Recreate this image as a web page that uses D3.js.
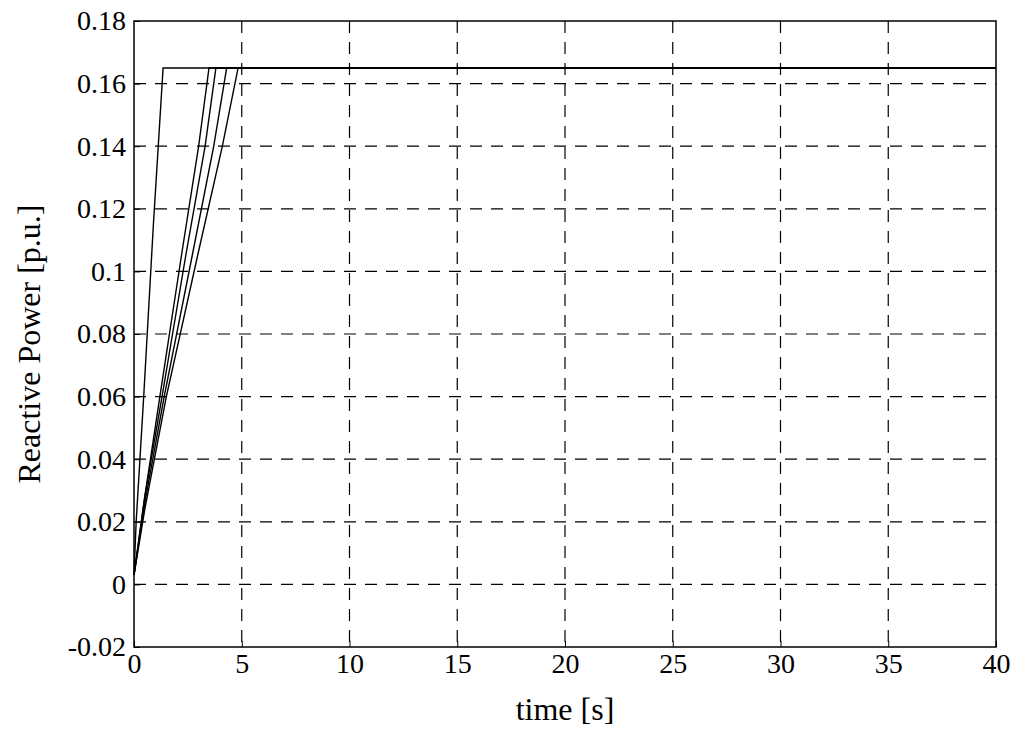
<!DOCTYPE html>
<html><head><meta charset="utf-8">
<script src="https://cdn.jsdelivr.net/npm/d3@7"></script>
<style>body{margin:0;background:#fff}svg text{font-family:"Liberation Serif",serif !important}</style>
</head><body><svg id="c" width="1011" height="731"></svg>
<script>
"use strict";
// time [s], reactive power [p.u.]
var tFast = [0, 0.1, 0.45, 0.9, 1.35, 40];
var qFast = [0.003, 0.02, 0.06, 0.115, 0.165, 0.165];
var tS1 = [0, 0.5, 1.2, 2.2, 3.0, 3.48, 40];
var qS1 = [0.003, 0.028, 0.06, 0.105, 0.14, 0.165, 0.165];
var tS2 = [0, 0.5, 1.3, 2.4, 3.3, 3.8, 40];
var qS2 = [0.003, 0.028, 0.06, 0.105, 0.14, 0.165, 0.165];
var tS3 = [0, 0.5, 1.4, 2.7, 3.7, 4.3, 40];
var qS3 = [0.003, 0.026, 0.06, 0.105, 0.14, 0.165, 0.165];
var tS4 = [0, 0.5, 1.5, 2.95, 4.1, 4.83, 40];
var qS4 = [0.003, 0.024, 0.06, 0.105, 0.14, 0.165, 0.165];
var xTicks = [0, 5, 10, 15, 20, 25, 30, 35, 40];
var yTicks = [-0.02, 0, 0.02, 0.04, 0.06, 0.08, 0.1, 0.12, 0.14, 0.16, 0.18];

var margin = {left: 134, right: 15, top: 21, bottom: 84};
var width = 1011 - margin.left - margin.right;
var height = 731 - margin.top - margin.bottom;

var svg = d3.select("#c");
var g = svg.append("g").attr("transform", "translate(" + margin.left + "," + margin.top + ")");

var x = d3.scaleLinear().domain([0, 40]).range([0, width]);
var y = d3.scaleLinear().domain([-0.02, 0.18]).range([height, 0]);

//
// Grid
//
g.selectAll(".vg").data(xTicks.slice(1, -1)).enter().append("line")
	.attr("x1", function(d) { return x(d); }).attr("x2", function(d) { return x(d); })
	.attr("y1", 0).attr("y2", height)
	.attr("stroke", "#000").attr("stroke-width", 1.2).attr("stroke-dasharray", "12,9");
g.selectAll(".hg").data(yTicks.slice(1, -1)).enter().append("line")
	.attr("y1", function(d) { return y(d); }).attr("y2", function(d) { return y(d); })
	.attr("x1", 0).attr("x2", width)
	.attr("stroke", "#000").attr("stroke-width", 1.2).attr("stroke-dasharray", "12,9");

//
// Axes
//
var fmt = function(d) { return String(+d.toFixed(2)); };
var xAxis = g.append("g").attr("transform", "translate(0," + height + ")")
	.call(d3.axisBottom(x).tickValues(xTicks).tickSize(-6).tickPadding(6));
var yAxis = g.append("g")
	.call(d3.axisLeft(y).tickValues(yTicks).tickSize(-6).tickPadding(8).tickFormat(fmt));
[xAxis, yAxis].forEach(function(a) {
	a.attr("font-family", null).attr("font-size", null);
	a.select(".domain").remove();
	a.selectAll("text").attr("font-size", 28).attr("fill", "#000");
	a.selectAll("line").attr("stroke", "#000");
});
g.append("rect").attr("width", width).attr("height", height)
	.attr("fill", "none").attr("stroke", "#000").attr("stroke-width", 1.5);

//
// Series
//
var line = d3.line().x(function(d) { return x(d[0]); }).y(function(d) { return y(d[1]); });
[[tFast, qFast], [tS1, qS1], [tS2, qS2], [tS3, qS3], [tS4, qS4]].forEach(function(s) {
	g.append("path").datum(d3.zip(s[0], s[1])).attr("d", line)
		.attr("fill", "none").attr("stroke", "#000").attr("stroke-width", 1.4);
});

//
// Labels
//
svg.append("text").attr("x", margin.left + width / 2).attr("y", 720)
	.attr("text-anchor", "middle").attr("font-size", 32).text("time [s]");
svg.append("text").attr("transform", "translate(40," + (margin.top + height / 2 + 10) + ") rotate(-90)")
	.attr("text-anchor", "middle").attr("font-size", 32).text("Reactive Power [p.u.]");
</script></body></html>
